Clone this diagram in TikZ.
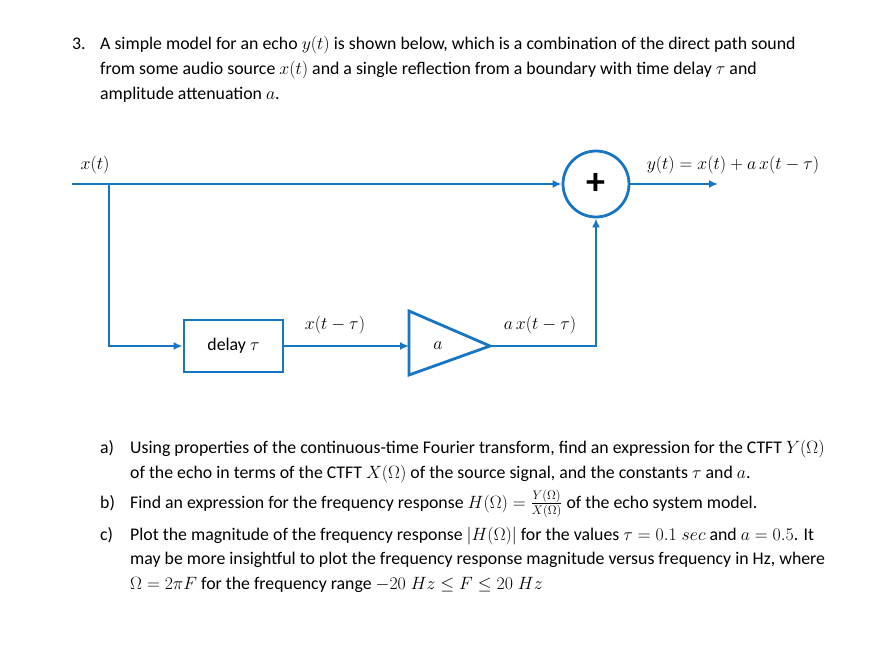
\documentclass[tikz,border=0pt]{standalone}
\usepackage{fix-cm}
\usepackage{amsmath,amssymb}
\usepackage{fontspec}
\setmainfont{Carlito}
\usetikzlibrary{arrows.meta}
\definecolor{bl}{RGB}{23,118,196}
\newcommand{\bigf}{\fontsize{17.8}{21}\selectfont}
\begin{document}
\begin{tikzpicture}[x=1pt,y=-1pt,
  every node/.style={font=\bigf},
  wire/.style={draw=bl,line width=2.8pt},
  arr/.style={wire,-{Latex[length=9pt,width=8pt]}},
  txt/.style={anchor=base west,inner sep=0pt}]
\useasboundingbox (0,0) rectangle (883,647);
% text
\node[txt] (n3) at (72,50) {3.};
\node[txt] (l1) at (100,50) {A simple model for an echo $y(t)$ is shown below, which is a combination of the direct path sound};
\node[txt] (l2) at (100,75) {from some audio source $x(t)$ and a single reflection from a boundary with time delay $\tau$ and};
\node[txt] (l3) at (100,100) {amplitude attenuation $a$.};
% diagram
\coordinate (in) at (72,184);
\coordinate (br) at (109,184);
\node[draw=bl,line width=2.8pt,minimum width=99pt,minimum height=52pt,inner sep=0pt] (dl) at (233.5,346) {delay $\tau$};
\node[draw=bl,line width=2.8pt,circle,minimum size=66pt,inner sep=0pt] (sum) at (596,184) {\fontsize{38}{38}\selectfont\bfseries +};
\draw[wire,fill=white] (409,311) -- (490,346) -- (409,375) -- cycle;
\coordinate (trl) at (409,346);
\coordinate (trr) at (490,346);
\node (ga) at (438,346) {$a$};
\coordinate (out) at (718,184);
\coordinate (up) at (596,346);
\draw[wire] (in) -- (br);
\draw[arr] (br) -- (sum.west);
\draw[arr] (br) |- (dl.west);
\draw[arr] (dl.east) -- (trl);
\draw[arr] (trr) -- (up) -- (sum.south);
\draw[arr] (sum.east) -- (out);
\node (lx) at (95,165) {$x(t)$};
\node (ly) at (733,165) {$y(t)=x(t)+a\,x(t-\tau)$};
\node (ld) at (335,325) {$x(t-\tau)$};
\node (la) at (540,325) {$a\,x(t-\tau)$};
% questions
\node[txt] (qa) at (100,453) {a)};
\node[txt] (qa1) at (130,453) {Using properties of the continuous-time Fourier transform, find an expression for the CTFT $Y(\Omega)$};
\node[txt] (qa2) at (130,478) {of the echo in terms of the CTFT $X(\Omega)$ of the source signal, and the constants $\tau$ and $a$.};
\node[txt] (qb) at (100,508) {b)};
\node[txt] (qb1) at (130,508) {Find an expression for the frequency response $H(\Omega)=\frac{Y(\Omega)}{X(\Omega)}$ of the echo system model.};
\node[txt] (qc) at (100,540) {c)};
\node[txt] (qc1) at (130,540) {Plot the magnitude of the frequency response $|H(\Omega)|$ for the values $\tau=0.1\;sec$ and $a=0.5$. It};
\node[txt] (qc2) at (130,564) {may be more insightful to plot the frequency response magnitude versus frequency in Hz, where};
\node[txt] (qc3) at (130,589) {$\Omega=2\pi F$ for the frequency range $-20\;Hz\le F\le 20\;Hz$};
\end{tikzpicture}
\end{document}
